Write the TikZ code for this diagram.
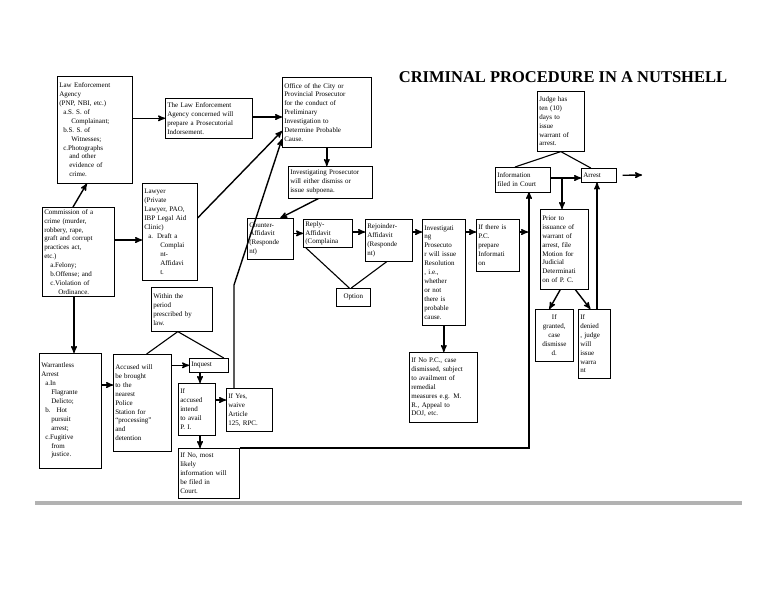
\documentclass[tikz,border=0pt]{standalone}
\usepackage{fontspec}
\setmainfont{Liberation Serif}
\usetikzlibrary{arrows}

\begin{document}
\begin{tikzpicture}
  [x=1pt,y=-1pt,->,>=stealth',line width=1.4pt,
  box/.style={draw,line width=0.6pt,anchor=north west,align=left,inner sep=2pt,
  font=\fontsize{7}{8.9}\selectfont},
  link/.style={-,line width=1.1pt}]

  \useasboundingbox (0,0) rectangle (768,594);
  \fill[gray!60] (35,501) rectangle (742,505);
  \node[font=\fontsize{16.5}{18}\selectfont\bfseries] (title) at (563,77)
    {CRIMINAL PROCEDURE IN A NUTSHELL};

  % left column
  \node[box,text width=71pt,minimum height=107pt] (lea) at (57,76)
    {Law Enforcement\\Agency\\(PNP, NBI, etc.)\\\hspace*{4pt}a.S. S. of\\\hspace*{12pt}Complainant;\\\hspace*{4pt}b.S. S. of\\\hspace*{12pt}Witnesses;\\\hspace*{4pt}c.Photographs\\\hspace*{10pt}and other\\\hspace*{10pt}evidence of\\\hspace*{10pt}crime.};
  \node[box,text width=83pt,minimum height=40pt] (pros) at (165,98)
    {The Law Enforcement\\Agency concerned will\\prepare a Prosecutorial\\Indorsement.};
  \node[box,text width=68pt,minimum height=75pt] (crime) at (42,207)
    {Commission of a\\crime (murder,\\robbery, rape,\\graft and corrupt\\practices act,\\etc.)\\\hspace*{6pt}a.Felony;\\\hspace*{6pt}b.Offense; and\\\hspace*{6pt}c.Violation of\\\hspace*{14pt}Ordinance.};
  \node[box,text width=51pt,minimum height=97pt] (lawyer) at (142,183)
    {Lawyer\\(Private\\Lawyer, PAO,\\IBP Legal Aid\\Clinic)\\\hspace*{4pt}a.\hspace*{4pt}Draft a\\\hspace*{16pt}Complai\\\hspace*{16pt}nt-\\\hspace*{16pt}Affidavi\\\hspace*{16pt}t.};
  \node[box,text width=57pt,minimum height=44pt] (within) at (151,287)
    {Within the\\period\\prescribed by\\law.};
  \node[box,text width=58pt,minimum height=115pt] (warless) at (39,353)
    {Warrantless\\Arrest\\\hspace*{4pt}a.In\\\hspace*{10pt}Flagrante\\\hspace*{10pt}Delicto;\\\hspace*{4pt}b.\hspace*{6pt}Hot\\\hspace*{10pt}pursuit\\\hspace*{10pt}arrest;\\\hspace*{4pt}c.Fugitive\\\hspace*{10pt}from\\\hspace*{10pt}justice.};
  \node[box,text width=54pt,minimum height=97pt] (accused) at (113,354)
    {Accused will\\be brought\\to the\\nearest\\Police\\Station for\\``processing''\\and\\detention};
  \node[box,text width=35pt,minimum height=14pt] (inquest) at (189,358) {Inquest};
  \node[box,text width=33pt,minimum height=52pt] (avail) at (178,383)
    {If\\accused\\intend\\to avail\\P. I.};
  \node[box,text width=42pt,minimum height=43pt] (waive) at (226,388)
    {If Yes,\\waive\\Article\\125, RPC.};
  \node[box,text width=57pt,minimum height=50pt] (nopi) at (178,448)
    {If No, most\\likely\\information will\\be filed in\\Court.};

  % prosecutor column
  \node[box,text width=85pt,minimum height=70pt] (office) at (282,77)
    {Office of the City or\\Provincial Prosecutor\\for the conduct of\\Preliminary\\Investigation to\\Determine Probable\\Cause.};
  \node[box,text width=80pt,minimum height=32pt] (invpros) at (288,166)
    {Investigating Prosecutor\\will either dismiss or\\issue subpoena.};
  \node[box,text width=42pt,minimum height=41pt] (counter) at (247,218)
    {Counter-\\Affidavit\\(Responde\\nt)};
  \node[box,text width=45pt,minimum height=26pt] (reply) at (303,219)
    {Reply-\\Affidavit\\(Complaina};
  \node[box,text width=43pt,minimum height=42pt] (rejoin) at (365,219)
    {Rejoinder-\\Affidavit\\(Responde\\nt)};
  \node[box,text width=30pt,minimum height=18pt,align=center] (option) at (336,288) {Option};
  \node[box,text width=39pt,minimum height=106pt] (resol) at (422,219)
    {Investigati\\ng\\Prosecuto\\r will issue\\Resolution\\, i.e.,\\whether\\or not\\there is\\probable\\cause.};
  \node[box,text width=64pt,minimum height=70pt] (nopc) at (409,352)
    {If No P.C., case\\dismissed, subject\\to availment of\\remedial\\measures e.g. M.\\R., Appeal to\\DOJ, etc.};
  \node[box,text width=39pt,minimum height=52pt] (ifpc) at (476,219)
    {If there is\\P.C.\\prepare\\Informati\\on};

  % court column
  \node[box,text width=51pt,minimum height=25pt] (info) at (495,167)
    {Information\\filed in Court};
  \node[box,text width=31pt,minimum height=14pt] (arrest) at (581,168) {Arrest};
  \node[box,text width=43pt,minimum height=60pt] (judge) at (537,91)
    {Judge has\\ten (10)\\days to\\issue\\warrant of\\arrest.};
  \node[box,text width=44pt,minimum height=80pt] (prior) at (540,209)
    {Prior to\\issuance of\\warrant of\\arrest, file\\Motion for\\Judicial\\Determinati\\on of P. C.};
  \node[box,text width=34pt,minimum height=52pt,align=center] (granted) at (535,309)
    {If\\granted,\\case\\dismisse\\d.};
  \node[box,text width=28pt,minimum height=69pt] (denied) at (578,309)
    {If\\denied\\, judge\\will\\issue\\warra\\nt};
  \coordinate (next) at (642,175);

  % connectors
  \draw (crime.north west) ++(31,0) -- ([xshift=-8pt]lea.south);
  \draw (lea.east |- pros) -- (pros.west);
  \draw (pros.east |- 0,117) -- (office.west |- 0,117);
  \draw (crime.east |- 0,240) -- (lawyer.west |- 0,240);
  \draw (lawyer.east |- 0,218) -- (office.west |- 0,131);
  \draw (waive.north west) ++(8,0) -- ++(0,-103) -- (office.west |- 0,139);
  \draw (office) -- (office |- invpros.north);
  \draw ([xshift=-12pt]invpros.south) -- ([xshift=10pt]counter.north);
  \draw (counter.east |- reply) -- (reply.west);
  \draw (reply.east |- 0,232) -- (rejoin.west |- 0,232);
  \draw (rejoin.east |- 0,232) -- (resol.west |- 0,232);
  \draw (resol.east |- 0,232) -- (ifpc.west |- 0,232);
  \draw (ifpc.east |- 0,232) -- (528,232);
  \draw[link] ([xshift=-22pt]reply.south) -- ([xshift=-4pt]option.north);
  \draw[link] ([xshift=-2pt]rejoin.south) -- ([xshift=-2pt]option.north);
  \draw (resol) -- (resol |- nopc.north);
  \draw (nopi.north east) -- (529,448) -- (529,192);
  \draw[link] ([xshift=20pt]info.north west) -- (judge.south) -- ([xshift=-8pt]arrest.north);
  \draw (info.east |- 0,178) -- (arrest.west |- 0,178);
  \draw (562,178) -- (prior.north -| 562,0);
  \draw ([xshift=-4pt]prior.south) -- ([xshift=-5pt]granted.north);
  \draw ([xshift=11pt]prior.south) -- ([xshift=-4pt]denied.north);
  \draw (denied.north -| 597,0) -- (arrest.south -| 597,0);
  \draw ([xshift=6pt]arrest.east) -- (next);
  \draw[link] ([xshift=-4pt]within.south) -- ([xshift=-25pt]accused.north east);
  \draw[link] ([xshift=-4pt]within.south) -- ([xshift=15pt]inquest.north);
  \draw (crime.south -| 74,0) -- (warless.north -| 74,0);
  \draw (warless.east |- 0,385) -- (accused.west |- 0,385);
  \draw (accused.east |- inquest) -- (inquest.west);
  \draw (inquest.south -| 200,0) -- (avail.north -| 200,0);
  \draw (avail.east |- 0,400) -- (waive.west |- 0,400);
  \draw (avail.south -| 200,0) -- (nopi.north -| 200,0);
\end{tikzpicture}
\end{document}
